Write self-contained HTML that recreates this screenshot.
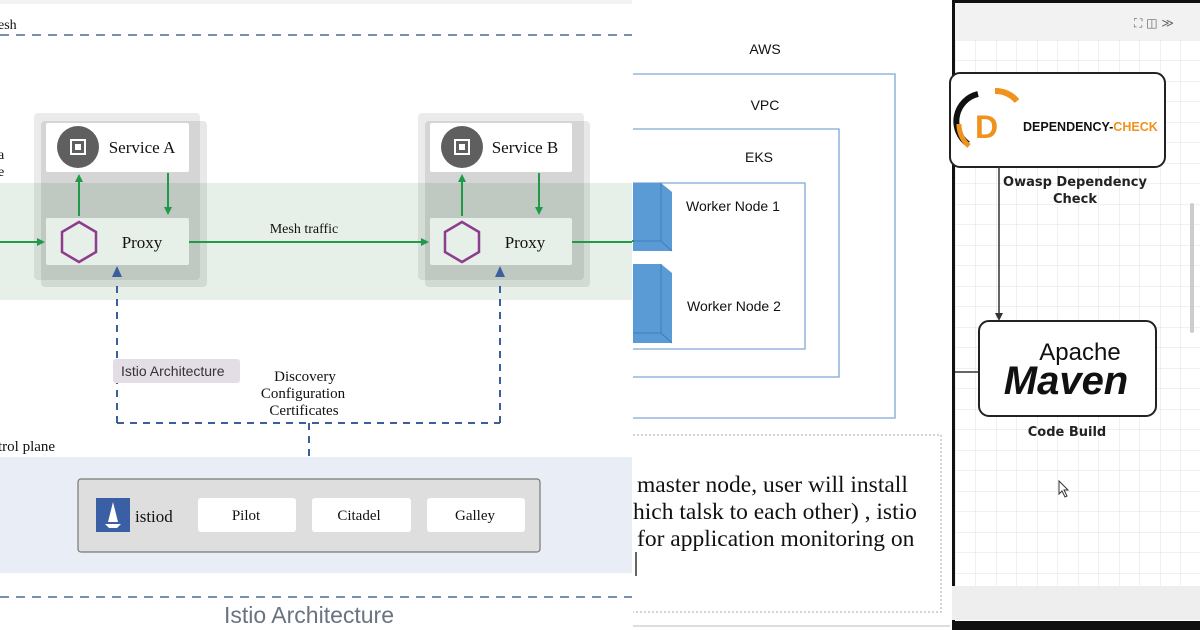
<!DOCTYPE html>
<html><head><meta charset="utf-8"><style>
html,body{margin:0;padding:0;width:1200px;height:630px;overflow:hidden;background:#fff}
svg{display:block}
</style></head><body>
<svg width="1200" height="630" viewBox="0 0 1200 630" xmlns="http://www.w3.org/2000/svg">
<defs>
<marker id="ga" markerWidth="8" markerHeight="8" refX="6" refY="4" orient="auto" markerUnits="userSpaceOnUse"><path d="M0,0 L8,4 L0,8z" fill="#1f9a46"/></marker>
<pattern id="grid" width="20.5" height="20.5" patternUnits="userSpaceOnUse" x="955" y="40"><path d="M20.5 0 L0 0 0 20.5" fill="none" stroke="#e2e2e2" stroke-width="1"/></pattern>
</defs>
<!-- LEFT PANEL -->
<rect x="0" y="0" width="632" height="630" fill="#fff"/>
<rect x="0" y="0" width="632" height="4" fill="#f2f2f2"/>
<text x="-2" y="29" font-family="Liberation Serif,serif" font-size="14" fill="#111">esh</text>
<line x1="0" y1="35" x2="632" y2="35" stroke="#4a6a96" stroke-width="1.5" stroke-dasharray="9,7"/>
<rect x="0" y="183" width="632" height="117" fill="#e6f0e8"/>
<text x="-2" y="159" font-family="Liberation Serif,serif" font-size="14" fill="#111">a</text>
<text x="-2" y="176" font-family="Liberation Serif,serif" font-size="14" fill="#111">e</text>
<!-- group A -->
<rect x="41" y="121" width="166" height="166" rx="4" fill="#000" opacity="0.09"/>
<rect x="34" y="113" width="166" height="167" rx="4" fill="#000" opacity="0.08"/>
<rect x="46" y="123" width="143" height="49" rx="2" fill="#fff"/>
<rect x="46" y="218" width="143" height="47" rx="2" fill="#e6efe8"/>
<circle cx="78" cy="147" r="21" fill="#5f5f5f"/>
<rect x="71" y="140" width="14" height="14" fill="none" stroke="#fff" stroke-width="2"/>
<rect x="75" y="144" width="6" height="6" fill="#fff"/>
<text x="142" y="153" text-anchor="middle" font-family="Liberation Serif,serif" font-size="17" fill="#111">Service A</text>
<polygon points="79,222 96,232 96,252 79,262 62,252 62,232" fill="none" stroke="#8e3c8e" stroke-width="2.5"/>
<text x="142" y="248" text-anchor="middle" font-family="Liberation Serif,serif" font-size="17" fill="#111">Proxy</text>
<line x1="79" y1="216" x2="79" y2="176" stroke="#1f9a46" stroke-width="2" marker-end="url(#ga)"/>
<line x1="168" y1="173" x2="168" y2="213" stroke="#1f9a46" stroke-width="2" marker-end="url(#ga)"/>
<line x1="0" y1="242" x2="43" y2="242" stroke="#1f9a46" stroke-width="2" marker-end="url(#ga)"/>
<!-- group B -->
<rect x="425" y="121" width="165" height="166" rx="4" fill="#000" opacity="0.09"/>
<rect x="418" y="113" width="166" height="167" rx="4" fill="#000" opacity="0.08"/>
<rect x="430" y="123" width="142" height="49" rx="2" fill="#fff"/>
<rect x="430" y="218" width="142" height="47" rx="2" fill="#e6efe8"/>
<circle cx="462" cy="147" r="21" fill="#5f5f5f"/>
<rect x="455" y="140" width="14" height="14" fill="none" stroke="#fff" stroke-width="2"/>
<rect x="459" y="144" width="6" height="6" fill="#fff"/>
<text x="525" y="153" text-anchor="middle" font-family="Liberation Serif,serif" font-size="17" fill="#111">Service B</text>
<polygon points="462,222 479,232 479,252 462,262 445,252 445,232" fill="none" stroke="#8e3c8e" stroke-width="2.5"/>
<text x="525" y="248" text-anchor="middle" font-family="Liberation Serif,serif" font-size="17" fill="#111">Proxy</text>
<line x1="462" y1="216" x2="462" y2="176" stroke="#1f9a46" stroke-width="2" marker-end="url(#ga)"/>
<line x1="539" y1="173" x2="539" y2="213" stroke="#1f9a46" stroke-width="2" marker-end="url(#ga)"/>
<line x1="189" y1="242" x2="427" y2="242" stroke="#1f9a46" stroke-width="2" marker-end="url(#ga)"/>
<line x1="572" y1="242" x2="632" y2="242" stroke="#1f9a46" stroke-width="2"/>
<text x="304" y="233" text-anchor="middle" font-family="Liberation Serif,serif" font-size="14" fill="#111">Mesh traffic</text>
<!-- blue dashed -->
<path d="M117,423 L117,282 M500,423 L500,282 M117,423 L500,423 M309,423 L309,478" stroke="#3a5f9a" stroke-width="2" fill="none" stroke-dasharray="7,6"/>
<polygon points="117,266 112,277 122,277" fill="#3a5f9a"/>
<polygon points="500,266 495,277 505,277" fill="#3a5f9a"/>
<rect x="113" y="359" width="127" height="24" rx="3" fill="#e3dee5"/>
<text x="121" y="376" font-family="Liberation Sans,sans-serif" font-size="14" fill="#333">Istio Architecture</text>
<g font-family="Liberation Serif,serif" font-size="15" fill="#111" text-anchor="middle">
<text x="305" y="381">Discovery</text><text x="303" y="398">Configuration</text><text x="304" y="415">Certificates</text></g>
<text x="-2" y="451" font-family="Liberation Serif,serif" font-size="15" fill="#111">trol plane</text>
<rect x="0" y="457" width="632" height="116" fill="#e9eef6"/>
<rect x="78" y="479" width="462" height="73" rx="3" fill="#dedede" stroke="#777" stroke-width="1.2"/>
<rect x="96" y="498" width="34" height="34" fill="#3a5fa4"/>
<polygon points="113,502 108,522 118,522" fill="#fff"/><polygon points="105,524 121,524 117,528 109,528" fill="#fff"/>
<text x="135" y="522" font-family="Liberation Serif,serif" font-size="17" fill="#111">istiod</text>
<rect x="198" y="498" width="98" height="34" rx="3" fill="#fff"/>
<rect x="312" y="498" width="99" height="34" rx="3" fill="#fff"/>
<rect x="427" y="498" width="98" height="34" rx="3" fill="#fff"/>
<g font-family="Liberation Serif,serif" font-size="15" fill="#111" text-anchor="middle">
<text x="246" y="520">Pilot</text><text x="359" y="520">Citadel</text><text x="475" y="520">Galley</text></g>
<line x1="0" y1="597" x2="632" y2="597" stroke="#4a6a96" stroke-width="1.5" stroke-dasharray="9,7"/>
<text x="309" y="623" text-anchor="middle" font-family="Liberation Sans,sans-serif" font-size="23" fill="#6b7280">Istio Architecture</text>
<!-- MIDDLE PANEL -->
<rect x="632" y="0" width="320" height="630" fill="#fff"/>
<text x="765" y="54" text-anchor="middle" font-family="Liberation Sans,sans-serif" font-size="14" fill="#111">AWS</text>
<path d="M633,74 H895 V418 H633" fill="none" stroke="#7fa6d6" stroke-width="1.3"/>
<text x="765" y="110" text-anchor="middle" font-family="Liberation Sans,sans-serif" font-size="14" fill="#111">VPC</text>
<path d="M633,129 H839 V377 H633" fill="none" stroke="#7fa6d6" stroke-width="1.3"/>
<text x="759" y="162" text-anchor="middle" font-family="Liberation Sans,sans-serif" font-size="14" fill="#111">EKS</text>
<path d="M633,183 H805 V349 H633" fill="none" stroke="#7fa6d6" stroke-width="1.3"/>
<polygon points="633,183 661,183 672,192 672,251 661,251 633,251" fill="#5b9bd5"/>
<path d="M661,183 V241 L672,251 M633,241 H661" stroke="#3d7cbf" fill="none"/>
<polygon points="633,264 661,264 672,273 672,343 661,343 633,343" fill="#5b9bd5"/>
<path d="M661,264 V333 L672,343 M633,333 H661" stroke="#3d7cbf" fill="none"/>
<line x1="632" y1="241" x2="634" y2="241" stroke="#1f9a46" stroke-width="2"/>
<text x="686" y="211" font-family="Liberation Sans,sans-serif" font-size="14" fill="#111">Worker Node 1</text>
<text x="687" y="311" font-family="Liberation Sans,sans-serif" font-size="14" fill="#111">Worker Node 2</text>
<path d="M633,435 H941 V612 H633" fill="none" stroke="#aaa" stroke-width="1" stroke-dasharray="2,2"/>
<g font-family="Liberation Serif,serif" font-size="23.5" fill="#111">
<text x="637" y="492">master node, user will install</text>
<text x="633" y="519">hich talsk to each other) , istio</text>
<text x="637" y="546">for application monitoring on</text></g>
<line x1="636" y1="552" x2="636" y2="576" stroke="#333" stroke-width="1.5"/>
<line x1="633" y1="626" x2="950" y2="626" stroke="#bbb"/>
<!-- RIGHT PANEL -->
<rect x="952" y="0" width="248" height="630" fill="#fff"/>
<rect x="952" y="40" width="248" height="546" fill="url(#grid)"/>
<rect x="952" y="0" width="248" height="3" fill="#111"/>
<rect x="952" y="3" width="248" height="37" fill="#f2f2f2"/>
<rect x="952" y="0" width="3" height="630" fill="#111"/>
<rect x="952" y="586" width="248" height="34" fill="#eeeeee"/>
<rect x="952" y="621" width="248" height="9" fill="#111"/>
<rect x="1190" y="203" width="4" height="130" rx="2" fill="#ccc"/>
<text x="1134" y="27" font-family="DejaVu Sans,sans-serif" font-size="12" fill="#666">⛶ ◫ ≫</text>
<rect x="950" y="73" width="215" height="94" rx="10" fill="#fff" stroke="#222" stroke-width="2"/>
<path d="M978,94 A28,28 0 0 0 968,144" fill="none" stroke="#111" stroke-width="6"/>
<path d="M995,91 A28,28 0 0 1 1017,101" fill="none" stroke="#f0921e" stroke-width="6"/>
<path d="M959,124 A28,28 0 0 0 969,146" fill="none" stroke="#f0921e" stroke-width="5"/>
<text x="975" y="138" font-family="Liberation Sans,sans-serif" font-weight="bold" font-size="32" fill="#f0921e">D</text>
<text x="1023" y="131" font-family="Liberation Sans,sans-serif" font-weight="bold" font-size="12.5" fill="#111">DEPENDENCY-<tspan fill="#f0921e">CHECK</tspan></text>
<text x="1075" y="186" text-anchor="middle" font-family="DejaVu Sans,sans-serif" font-weight="bold" font-size="13" fill="#222">Owasp Dependency</text>
<text x="1075" y="203" text-anchor="middle" font-family="DejaVu Sans,sans-serif" font-weight="bold" font-size="13" fill="#222">Check</text>
<line x1="999" y1="167" x2="999" y2="315" stroke="#333" stroke-width="1.5"/>
<polygon points="995,313 1003,313 999,321" fill="#333"/>
<line x1="955" y1="372" x2="979" y2="372" stroke="#333" stroke-width="1.5"/>
<rect x="979" y="321" width="177" height="95" rx="10" fill="#fff" stroke="#222" stroke-width="2"/>
<text x="1080" y="360" text-anchor="middle" font-family="Liberation Sans,sans-serif" font-size="24" fill="#111">Apache</text>
<text x="1066" y="394" text-anchor="middle" font-family="Liberation Sans,sans-serif" font-weight="bold" font-style="italic" font-size="40" fill="#111">Maven</text>
<text x="1067" y="436" text-anchor="middle" font-family="DejaVu Sans,sans-serif" font-weight="bold" font-size="13" fill="#222">Code Build</text>
<path d="M1059,481 L1059,494 L1062,491 L1065,497 L1067,496 L1064,490 L1068,490 Z" fill="#fff" stroke="#333"/>
</svg>
</body></html>
